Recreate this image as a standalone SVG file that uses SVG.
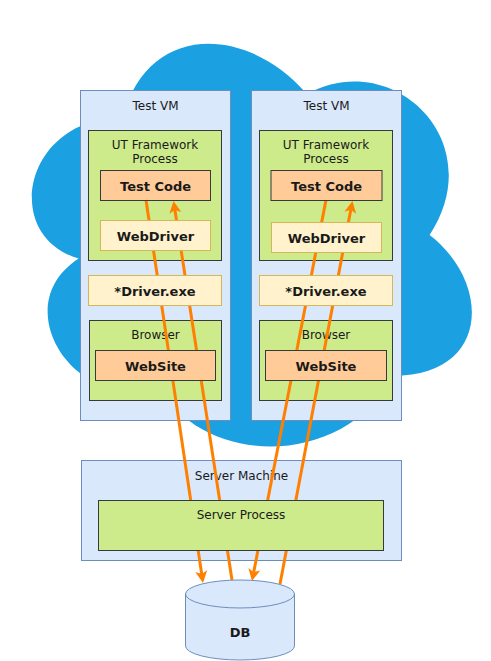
<svg xmlns="http://www.w3.org/2000/svg" width="491" height="661" viewBox="0 0 491 661">
<defs>
<style>
.t{font-family:"DejaVu Sans",Verdana,sans-serif;font-size:12px;fill:#1a1a1a;text-anchor:middle}
.b{font-family:"DejaVu Sans",Verdana,sans-serif;font-size:13px;font-weight:bold;fill:#1a1a1a;text-anchor:middle}
.vm{fill:#dae8fc;stroke:#6c8ebf;stroke-width:1}
.gr{fill:#cdeb8b;stroke:#36393d;stroke-width:1}
.or{fill:#ffcc99;stroke:#36393d;stroke-width:1}
.ye{fill:#fff2cc;stroke:#d6b656;stroke-width:1}
.e{fill:none;stroke:#ff8000;stroke-width:3}
</style>
<marker id="ah" markerUnits="userSpaceOnUse" markerWidth="14" markerHeight="14" viewBox="-4 -7 14 14" refX="0" refY="0" orient="auto">
<path d="M9,0 L-3,-6 L0,0 L-3,6 Z" fill="#ff8000"/>
</marker>
</defs>
<g id="cloud">
<path fill="#1ba1e2" d="M122.75,117.5 C24.55,117.5 0,235 78.56,258.5 C0,310.2 88.38,423 152.21,376 C196.4,470 343.7,470 392.8,376 C491,376 491,282 429.63,235 C491,141 392.8,47 306.88,94 C245.5,23.5 147.3,23.5 122.75,117.5 Z"/>
</g>
<g id="vm1"><rect class="vm" x="80.5" y="90.5" width="150" height="330"/><text class="t" x="155.5" y="110">Test VM</text></g>
<g id="vm2"><rect class="vm" x="251.5" y="90.5" width="150" height="330"/><text class="t" x="326.5" y="110">Test VM</text></g>
<g id="ut1"><rect class="gr" x="88.5" y="130.5" width="133" height="130"/><text class="t" x="155" y="149">UT Framework</text><text class="t" x="155" y="162.5">Process</text></g>
<g id="ut2"><rect class="gr" x="259.5" y="130.5" width="133" height="130"/><text class="t" x="326" y="149">UT Framework</text><text class="t" x="326" y="162.5">Process</text></g>
<g id="browser1"><rect class="gr" x="89.5" y="320.5" width="132" height="80"/><text class="t" x="155.5" y="339">Browser</text></g>
<g id="browser2"><rect class="gr" x="259.5" y="320.5" width="133" height="80"/><text class="t" x="326" y="339">Browser</text></g>
<g id="server-machine"><rect class="vm" x="81.5" y="460.5" width="320" height="100"/><text class="t" x="241.5" y="480">Server Machine</text></g>
<g id="connectors">
<path class="e" d="M146,200 L201.7,574.1" marker-end="url(#ah)"/>
<path class="e" d="M232,580 L174.9,209.9" marker-end="url(#ah)"/>
<path class="e" d="M326,200 L253.7,572.2" marker-end="url(#ah)"/>
<path class="e" d="M280,584 L350.8,209.8" marker-end="url(#ah)"/>
</g>
<g id="testcode1"><rect class="or" x="100.5" y="170.5" width="110" height="30"/><text class="b" x="155.5" y="191">Test Code</text></g>
<g id="testcode2"><rect class="or" x="271" y="170.5" width="111" height="30"/><text class="b" x="326.5" y="191">Test Code</text></g>
<g id="webdriver1"><rect class="ye" x="100.5" y="220.5" width="110" height="30"/><text class="b" x="155.5" y="241">WebDriver</text></g>
<g id="webdriver2"><rect class="ye" x="271.5" y="222.5" width="110" height="30"/><text class="b" x="326.5" y="243">WebDriver</text></g>
<g id="driverexe1"><rect class="ye" x="88.5" y="275.5" width="133" height="30"/><text class="b" x="155" y="296">*Driver.exe</text></g>
<g id="driverexe2"><rect class="ye" x="259.5" y="275.5" width="133" height="30"/><text class="b" x="326" y="296">*Driver.exe</text></g>
<g id="website1"><rect class="or" x="95.5" y="350.5" width="120" height="30"/><text class="b" x="155.5" y="371">WebSite</text></g>
<g id="website2"><rect class="or" x="265.5" y="350.5" width="121" height="30"/><text class="b" x="326" y="371">WebSite</text></g>
<g id="server-process"><rect class="gr" x="98.5" y="500.5" width="285" height="50"/><text class="t" x="241" y="519">Server Process</text></g>
<g id="db">
<path class="vm" d="M185.5,594 A54.5,14 0 0 1 294.5,594 V646 A54.5,14 0 0 1 185.5,646 Z"/>
<path fill="none" stroke="#6c8ebf" d="M185.5,594 A54.5,14 0 0 0 294.5,594"/>
<text class="b" x="240" y="637">DB</text>
</g>
</svg>
